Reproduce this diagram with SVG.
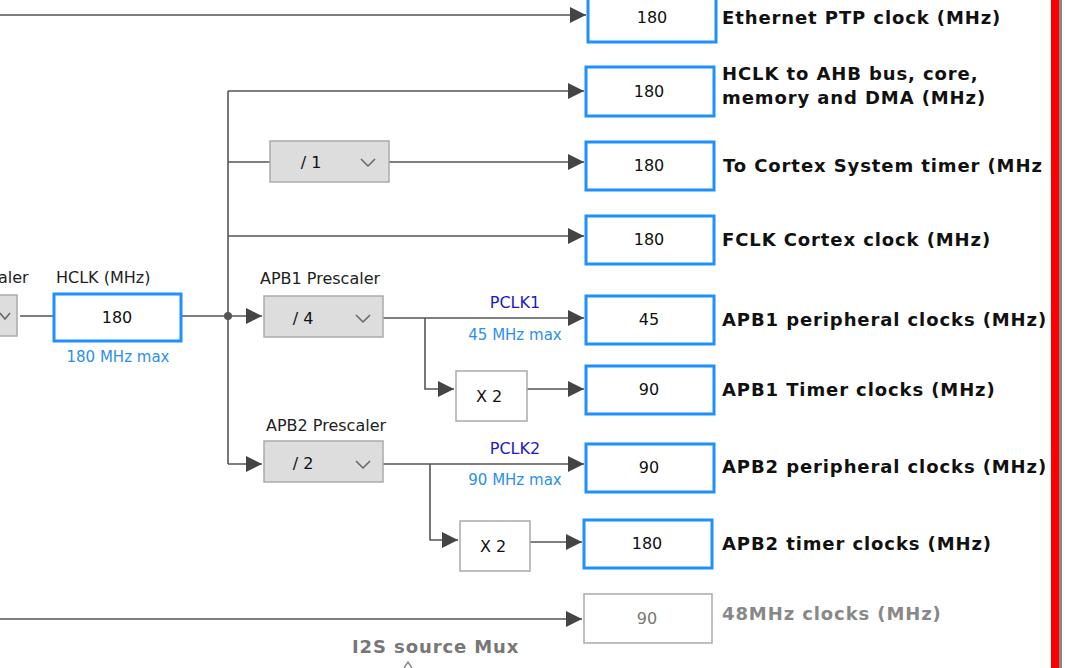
<svg xmlns="http://www.w3.org/2000/svg" width="1065" height="668" viewBox="0 0 1065 668">
<style>
.ln{stroke:#555;stroke-width:1.6;fill:none}
.ob{fill:#fff;stroke:#1e90ff;stroke-width:3}
.dd{fill:#ddd;stroke:#aaa;stroke-width:1.5}
.xb{fill:#fff;stroke:#aaa;stroke-width:1.5}
.v{font-family:"DejaVu Sans",sans-serif;font-size:16px;fill:#111;text-anchor:middle}
.lb{font-family:"DejaVu Sans",sans-serif;font-size:18px;font-weight:bold;fill:#111;letter-spacing:0.9px}
.t{font-family:"DejaVu Sans",sans-serif;font-size:16px;fill:#222}
.mx{font-family:"DejaVu Sans",sans-serif;font-size:15px;fill:#2b8ff0;text-anchor:middle}
.pc{font-family:"DejaVu Sans",sans-serif;font-size:16px;fill:#1a1acc;text-anchor:middle}
.ch{stroke:#666;stroke-width:1.5;fill:none}
</style>
<defs><marker id="a" viewBox="0 0 10 10" refX="10" refY="5" markerWidth="20" markerHeight="16" markerUnits="userSpaceOnUse" orient="auto"><path d="M0,0L10,5L0,10z" fill="#444"/></marker></defs>
<rect width="1065" height="668" fill="#fff"/>
<g id="connectors">
<path class="ln" d="M0,15H586" marker-end="url(#a)"/>
<path class="ln" d="M228,91H584" marker-end="url(#a)"/>
<path class="ln" d="M228,91V464"/>
<path class="ln" d="M228,162H270"/>
<path class="ln" d="M389,162H584" marker-end="url(#a)"/>
<path class="ln" d="M228,236H584" marker-end="url(#a)"/>
<path class="ln" d="M20,316H53"/>
<path class="ln" d="M182,316H262" marker-end="url(#a)"/>
<path class="ln" d="M228,464H262" marker-end="url(#a)"/>
<path class="ln" d="M383,318H584" marker-end="url(#a)"/>
<path class="ln" d="M425,318V389H454" marker-end="url(#a)"/>
<path class="ln" d="M527,389H584" marker-end="url(#a)"/>
<path class="ln" d="M383,464H584" marker-end="url(#a)"/>
<path class="ln" d="M430,464V540H458" marker-end="url(#a)"/>
<path class="ln" d="M530,542H582" marker-end="url(#a)"/>
<path class="ln" d="M0,619H582" marker-end="url(#a)"/>
<circle cx="228" cy="316" r="4" fill="#555"/>
<path d="M404,668L408,662L412,668" fill="none" stroke="#888" stroke-width="1.5"/>
</g>
<g id="left"><rect class="dd" x="-5" y="295" width="22" height="41"/><path class="ch" d="M0,313L5,319L10,313"/><text class="t" x="-2" y="283">aler</text></g>
<g id="hclk"><text class="t" x="56" y="283">HCLK (MHz)</text><rect class="ob" x="54" y="294" width="127" height="47"/><text class="v" x="117" y="323">180</text><text class="mx" x="118" y="362">180 MHz max</text></g>
<g id="div1"><rect class="dd" x="270" y="141" width="119" height="41"/><text class="v" x="311" y="168">/ 1</text><path class="ch" d="M361,159L368,166L375,159"/></g>
<g id="apb1"><text class="t" x="260" y="284">APB1 Prescaler</text><rect class="dd" x="264" y="296" width="119" height="41"/><text class="v" x="303" y="324">/ 4</text><path class="ch" d="M356,315L363,322L370,315"/></g>
<g id="apb2"><text class="t" x="266" y="431">APB2 Prescaler</text><rect class="dd" x="264" y="441" width="119" height="41"/><text class="v" x="303" y="469">/ 2</text><path class="ch" d="M356,461L363,468L370,461"/></g>
<g id="x2a"><rect class="xb" x="456" y="371" width="71" height="50"/><text class="v" x="489" y="402">X 2</text></g>
<g id="x2b"><rect class="xb" x="460" y="521" width="70" height="50"/><text class="v" x="493" y="552">X 2</text></g>
<text class="pc" x="515" y="308">PCLK1</text><text class="mx" x="515" y="340">45 MHz max</text>
<text class="pc" x="515" y="454">PCLK2</text><text class="mx" x="515" y="485">90 MHz max</text>
<g id="eth"><rect class="ob" x="588" y="-4" width="128" height="46"/><text class="v" x="652" y="23">180</text><text class="lb" x="722" y="24">Ethernet PTP clock (MHz)</text></g>
<g id="ahb"><rect class="ob" x="586" y="67" width="128" height="49"/><text class="v" x="649" y="97">180</text><text class="lb" x="722" y="80">HCLK to AHB bus, core,</text><text class="lb" x="722" y="104">memory and DMA (MHz)</text></g>
<g id="cortex"><rect class="ob" x="586" y="142" width="128" height="48"/><text class="v" x="649" y="171">180</text><text class="lb" x="723" y="172">To Cortex System timer (MHz</text></g>
<g id="fclk"><rect class="ob" x="586" y="216" width="128" height="48"/><text class="v" x="649" y="245">180</text><text class="lb" x="722" y="246">FCLK Cortex clock (MHz)</text></g>
<g id="apb1p"><rect class="ob" x="586" y="296" width="128" height="48"/><text class="v" x="649" y="325">45</text><text class="lb" x="722" y="326">APB1 peripheral clocks (MHz)</text></g>
<g id="apb1t"><rect class="ob" x="586" y="366" width="128" height="48"/><text class="v" x="649" y="395">90</text><text class="lb" x="722" y="396">APB1 Timer clocks (MHz)</text></g>
<g id="apb2p"><rect class="ob" x="586" y="444" width="128" height="48"/><text class="v" x="649" y="473">90</text><text class="lb" x="722" y="473">APB2 peripheral clocks (MHz)</text></g>
<g id="apb2t"><rect class="ob" x="584" y="520" width="128" height="48"/><text class="v" x="647" y="549">180</text><text class="lb" x="722" y="550">APB2 timer clocks (MHz)</text></g>
<g id="c48"><rect class="xb" x="584" y="594" width="128" height="49"/><text class="v" x="647" y="624" style="fill:#777">90</text><text class="lb" x="722" y="620" style="fill:#888">48MHz clocks (MHz)</text></g>
<text class="lb" x="352" y="653" style="fill:#777">I2S source Mux</text>
<rect x="1048" y="0" width="17" height="668" fill="#fff"/>
<rect x="1051" y="0" width="8" height="668" fill="#ff0000"/>
<rect x="1059" y="0" width="3" height="668" fill="#888"/>
</svg>
